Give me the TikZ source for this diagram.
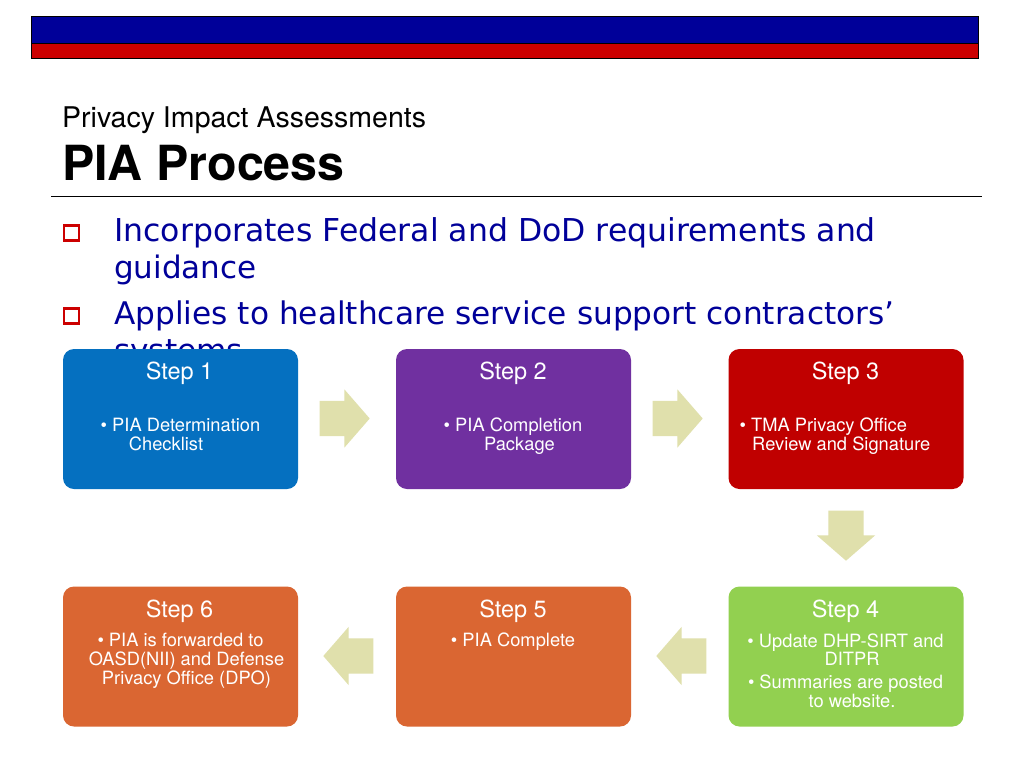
\documentclass[tikz,border=0pt]{standalone}
\usepackage{fontspec}
\setmainfont{TeX Gyre Heros}
\newfontfamily\bodyfont{DejaVu Sans}
\usetikzlibrary{shapes.arrows,calc}
\definecolor{bandblue}{HTML}{000099}
\definecolor{bandred}{HTML}{CC0000}
\definecolor{cblue}{HTML}{0570C0}
\definecolor{cpurple}{HTML}{7030A0}
\definecolor{cred}{HTML}{C00000}
\definecolor{cgreen}{HTML}{92D050}
\definecolor{corange}{HTML}{DA6632}
\definecolor{carrow}{HTML}{E0E0AC}
\tikzset{
 x=1pt,y=-1pt,
 stepbox/.style={rounded corners=11pt,minimum width=235pt,minimum height=140pt,inner sep=0pt,outer sep=0pt,anchor=north west},
 steptitle/.style={anchor=base,text=white,font=\fontsize{23.5}{26}\selectfont,inner sep=0pt},
 steptext/.style={anchor=base,text=white,font=\fontsize{18.3}{20}\selectfont,inner sep=0pt},
 blockarrow/.style={single arrow,fill=carrow,draw=none,single arrow tip angle=98,single arrow head extend=11.5pt,minimum height=50pt,minimum width=58pt,inner xsep=0pt,inner ysep=17.5pt,outer sep=0pt},
 bodyline/.style={anchor=base west,text=bandblue,font=\bodyfont\fontsize{#1}{34}\selectfont,inner sep=0pt},
 bul/.style={draw=bandred,line width=2.4pt,minimum size=15pt,inner sep=0pt,fill=white},
}
\begin{document}
\begin{tikzpicture}
\useasboundingbox (0,0) rectangle (1024,768);
\fill[white] (0,0) rectangle (1024,768);
\draw[black,line width=0.8pt,fill=bandblue] (31,16) rectangle (978,43);
\draw[black,line width=0.8pt,fill=bandred] (31,43) rectangle (978,58);
\node[anchor=base west,inner sep=0pt,font=\fontsize{28.5}{30}\selectfont] (sub) at (62,127) {Privacy Impact Assessments};
\node[anchor=base west,inner sep=0pt,font=\bfseries\fontsize{48.4}{50}\selectfont] (ttl) at (62,180) {PIA Process};
\draw[black,line width=1pt] (51,196) -- (982,196);
\node[bul] (b1) at (71.5,233) {};
\node[bul] (b2) at (71.5,316) {};
\node[bodyline=31.5] (l1) at (114,241) {Incorporates Federal and DoD requirements and};
\node[bodyline=31] (l2) at (114,278) {guidance};
\node[bodyline=31.2] (l3) at (114,324) {Applies to healthcare service support contractors’};
\node[bodyline=31.2] (l4) at (114,361) {systems};
% boxes
\node[stepbox,fill=cblue] (s1) at (63,349) {};
\node[stepbox,fill=cpurple] (s2) at (396,349) {};
\node[stepbox,fill=cred] (s3) at (728.5,349) {};
\node[stepbox,fill=cgreen] (s4) at (728.5,586.5) {};
\node[stepbox,fill=corange] (s5) at (396,586.5) {};
\node[stepbox,fill=corange] (s6) at (63,586.5) {};
% arrows
\node[blockarrow] (a12) at (337,418.5) {};
\node[blockarrow] (a23) at (670,418.5) {};
\node[blockarrow,rotate=-90] (a34) at (846,528) {};
\node[blockarrow,rotate=180] (a45) at (689,656) {};
\node[blockarrow,rotate=180] (a56) at (356,656) {};
% text
\node[steptitle] (t1) at (179.5,379) {Step 1};
\node[steptext] (t1a) at (180.5,431) {• PIA Determination};
\node[steptext] (t1b) at (166,450) {Checklist};
\node[steptitle] (t2) at (513,379) {Step 2};
\node[steptext] (t2a) at (513,431) {• PIA Completion};
\node[steptext] (t2b) at (519.5,450) {Package};
\node[steptitle] (t3) at (845.5,379) {Step 3};
\node[steptext,anchor=base west] (t3a) at (739.5,431) {• TMA Privacy Office};
\node[steptext,anchor=base west] (t3b) at (752,450) {Review and Signature};
\node[steptitle] (t4) at (845.5,617) {Step 4};
\node[steptext] (t4a) at (845.5,647) {• Update DHP-SIRT and};
\node[steptext] (t4b) at (852,665.5) {DITPR};
\node[steptext] (t4c) at (845.5,688) {• Summaries are posted};
\node[steptext] (t4d) at (852,707) {to website.};
\node[steptitle] (t5) at (513,617) {Step 5};
\node[steptext] (t5a) at (513,646) {• PIA Complete};
\node[steptitle] (t6) at (179.5,617) {Step 6};
\node[steptext] (t6a) at (180.5,646) {• PIA is forwarded to};
\node[steptext] (t6b) at (186.5,665) {OASD(NII) and Defense};
\node[steptext] (t6c) at (186.5,684) {Privacy Office (DPO)};
\end{tikzpicture}
\end{document}
